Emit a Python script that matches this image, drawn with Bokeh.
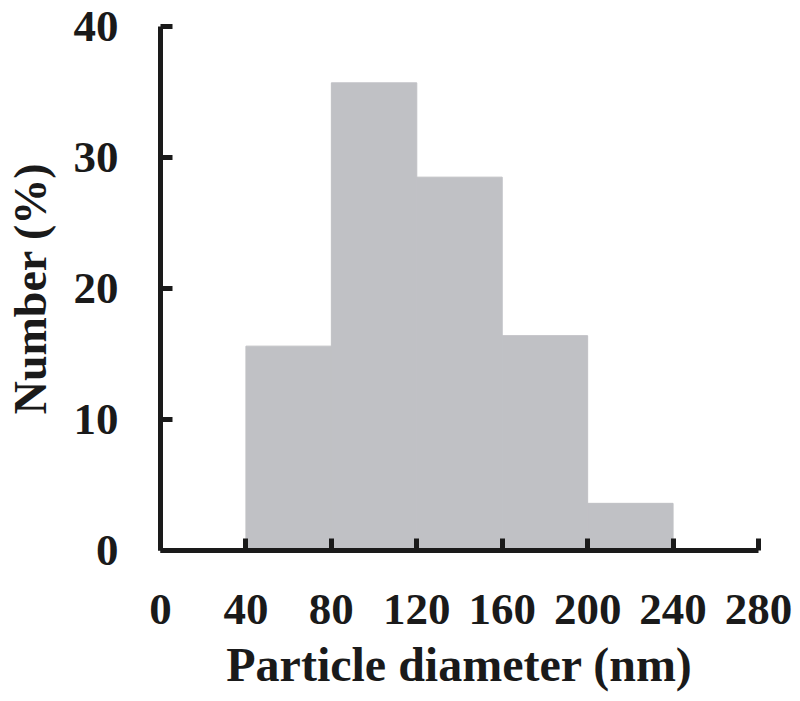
from bokeh.plotting import figure
from bokeh.models import Range1d, FixedTicker
from bokeh.embed import file_html
from bokeh.resources import INLINE

# Data
bin_left = [40, 80, 120, 160, 200]
bin_right = [80, 120, 160, 200, 240]
number_pct = [15.6, 35.7, 28.5, 16.4, 3.6]

x_ticks = [0, 40, 80, 120, 160, 200, 240, 280]
y_ticks = [0, 10, 20, 30, 40]

W, H = 792, 693
p = figure(width=W, height=H, output_backend="svg", toolbar_location=None,
           x_range=Range1d(0, 280), y_range=Range1d(0, 40),
           min_border_left=160, min_border_right=34,
           min_border_top=26, min_border_bottom=143)

BAR = "#c0c1c5"
p.quad(left=bin_left, right=bin_right, top=number_pct, bottom=0,
       fill_color=BAR, line_color=BAR, line_width=1)

p.grid.visible = False
p.outline_line_color = None
p.background_fill_color = "white"
p.border_fill_color = "white"

FONT = "Liberation Serif"
for ax in (p.xaxis[0], p.yaxis[0]):
    ax.axis_line_width = 5
    ax.axis_line_color = "#1a1a1a"
    ax.major_tick_line_width = 5
    ax.major_tick_line_color = "#1a1a1a"
    ax.major_tick_in = 12
    ax.major_tick_out = 0
    ax.minor_tick_line_color = None
    ax.major_label_text_font = FONT
    ax.major_label_text_font_style = "bold"
    ax.major_label_text_font_size = "45px"
    ax.major_label_text_color = "#1a1a1a"
    ax.axis_label_text_font = FONT
    ax.axis_label_text_font_style = "bold"
    ax.axis_label_text_color = "#1a1a1a"

p.xaxis.axis_label_text_font_size = "48px"
p.yaxis.axis_label_text_font_size = "46px"
p.xaxis.ticker = FixedTicker(ticks=x_ticks)
p.yaxis.ticker = FixedTicker(ticks=y_ticks)
p.xaxis.axis_label = "Particle diameter (nm)"
p.yaxis.axis_label = "Number (%)"
p.xaxis.major_label_standoff = 44
p.yaxis.major_label_standoff = 42
p.xaxis.axis_label_standoff = 11
p.yaxis.axis_label_standoff = 15

open("out.html", "w").write(file_html(p, INLINE))
